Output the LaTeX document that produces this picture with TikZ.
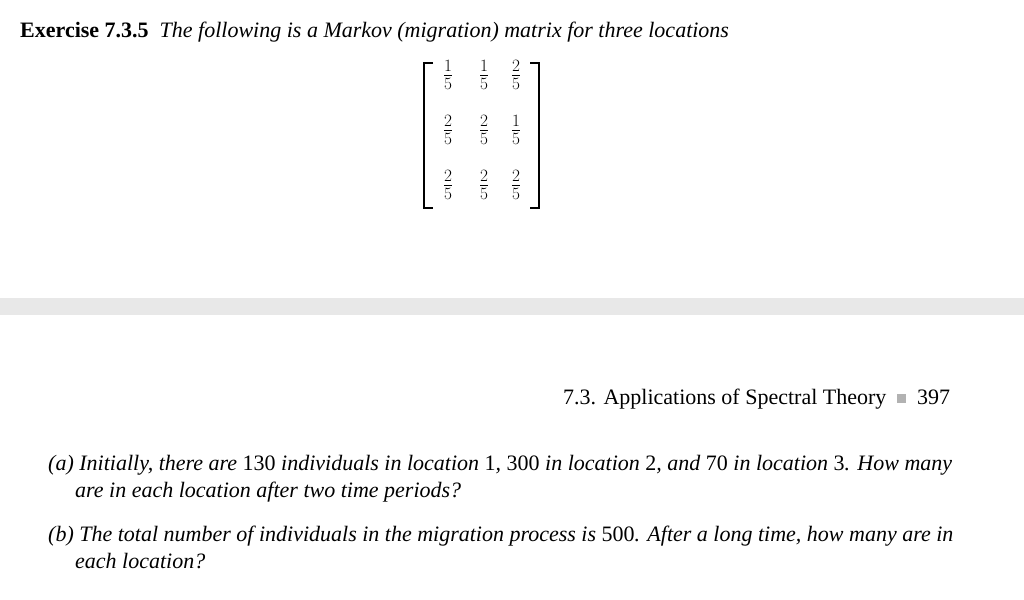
\documentclass[tikz,border=0pt]{standalone}
\usepackage{fontspec}
\setmainfont{Liberation Serif}
\begin{document}
\begin{tikzpicture}[x=1pt,y=-1pt,
  txt/.style={anchor=base west,inner sep=0pt,font=\fontsize{22}{26}\selectfont},
  fr/.style={inner sep=0pt,font=\fontsize{25}{28}\selectfont},
  brk/.style={line width=1.2pt}]
\useasboundingbox (0,0) rectangle (1024,599);
\fill[white] (0,0) rectangle (1024,599);
\node[txt] (title) at (20,38) {\textbf{Exercise 7.3.5}\ \ \textit{The following is a Markov (migration) matrix for three locations}};
% matrix
\draw[brk] (433,63) -- (424,63) -- (424,208) -- (433,208);
\draw[brk] (530,63) -- (539,63) -- (539,208) -- (530,208);
\node[fr] (m11) at (448,75) {$\frac{1}{5}$};
\node[fr] (m12) at (484,75) {$\frac{1}{5}$};
\node[fr] (m13) at (516,75) {$\frac{2}{5}$};
\node[fr] (m21) at (448,130) {$\frac{2}{5}$};
\node[fr] (m22) at (484,130) {$\frac{2}{5}$};
\node[fr] (m23) at (516,130) {$\frac{1}{5}$};
\node[fr] (m31) at (448,185) {$\frac{2}{5}$};
\node[fr] (m32) at (484,185) {$\frac{2}{5}$};
\node[fr] (m33) at (516,185) {$\frac{2}{5}$};
% band
\fill[black!9] (0,298) rectangle (1024,315);
\node[txt] (head) at (563,404) {7.3. Applications of Spectral Theory};
\fill[black!30] (897,394) rectangle (906,403);
\node[txt] (page) at (917,404) {397};
\node[txt] (a1) at (48,470) {\textit{(a) Initially, there are} 130 \textit{individuals in location} 1\textit{,} 300 \textit{in location} 2\textit{, and} 70 \textit{in location} 3\textit{. How many}};
\node[txt] (a2) at (75,497) {\textit{are in each location after two time periods?}};
\node[txt] (b1) at (48,541) {\textit{(b) The total number of individuals in the migration process is} 500\textit{. After a long time, how many are in}};
\node[txt] (b2) at (75,568) {\textit{each location?}};
\end{tikzpicture}
\end{document}
